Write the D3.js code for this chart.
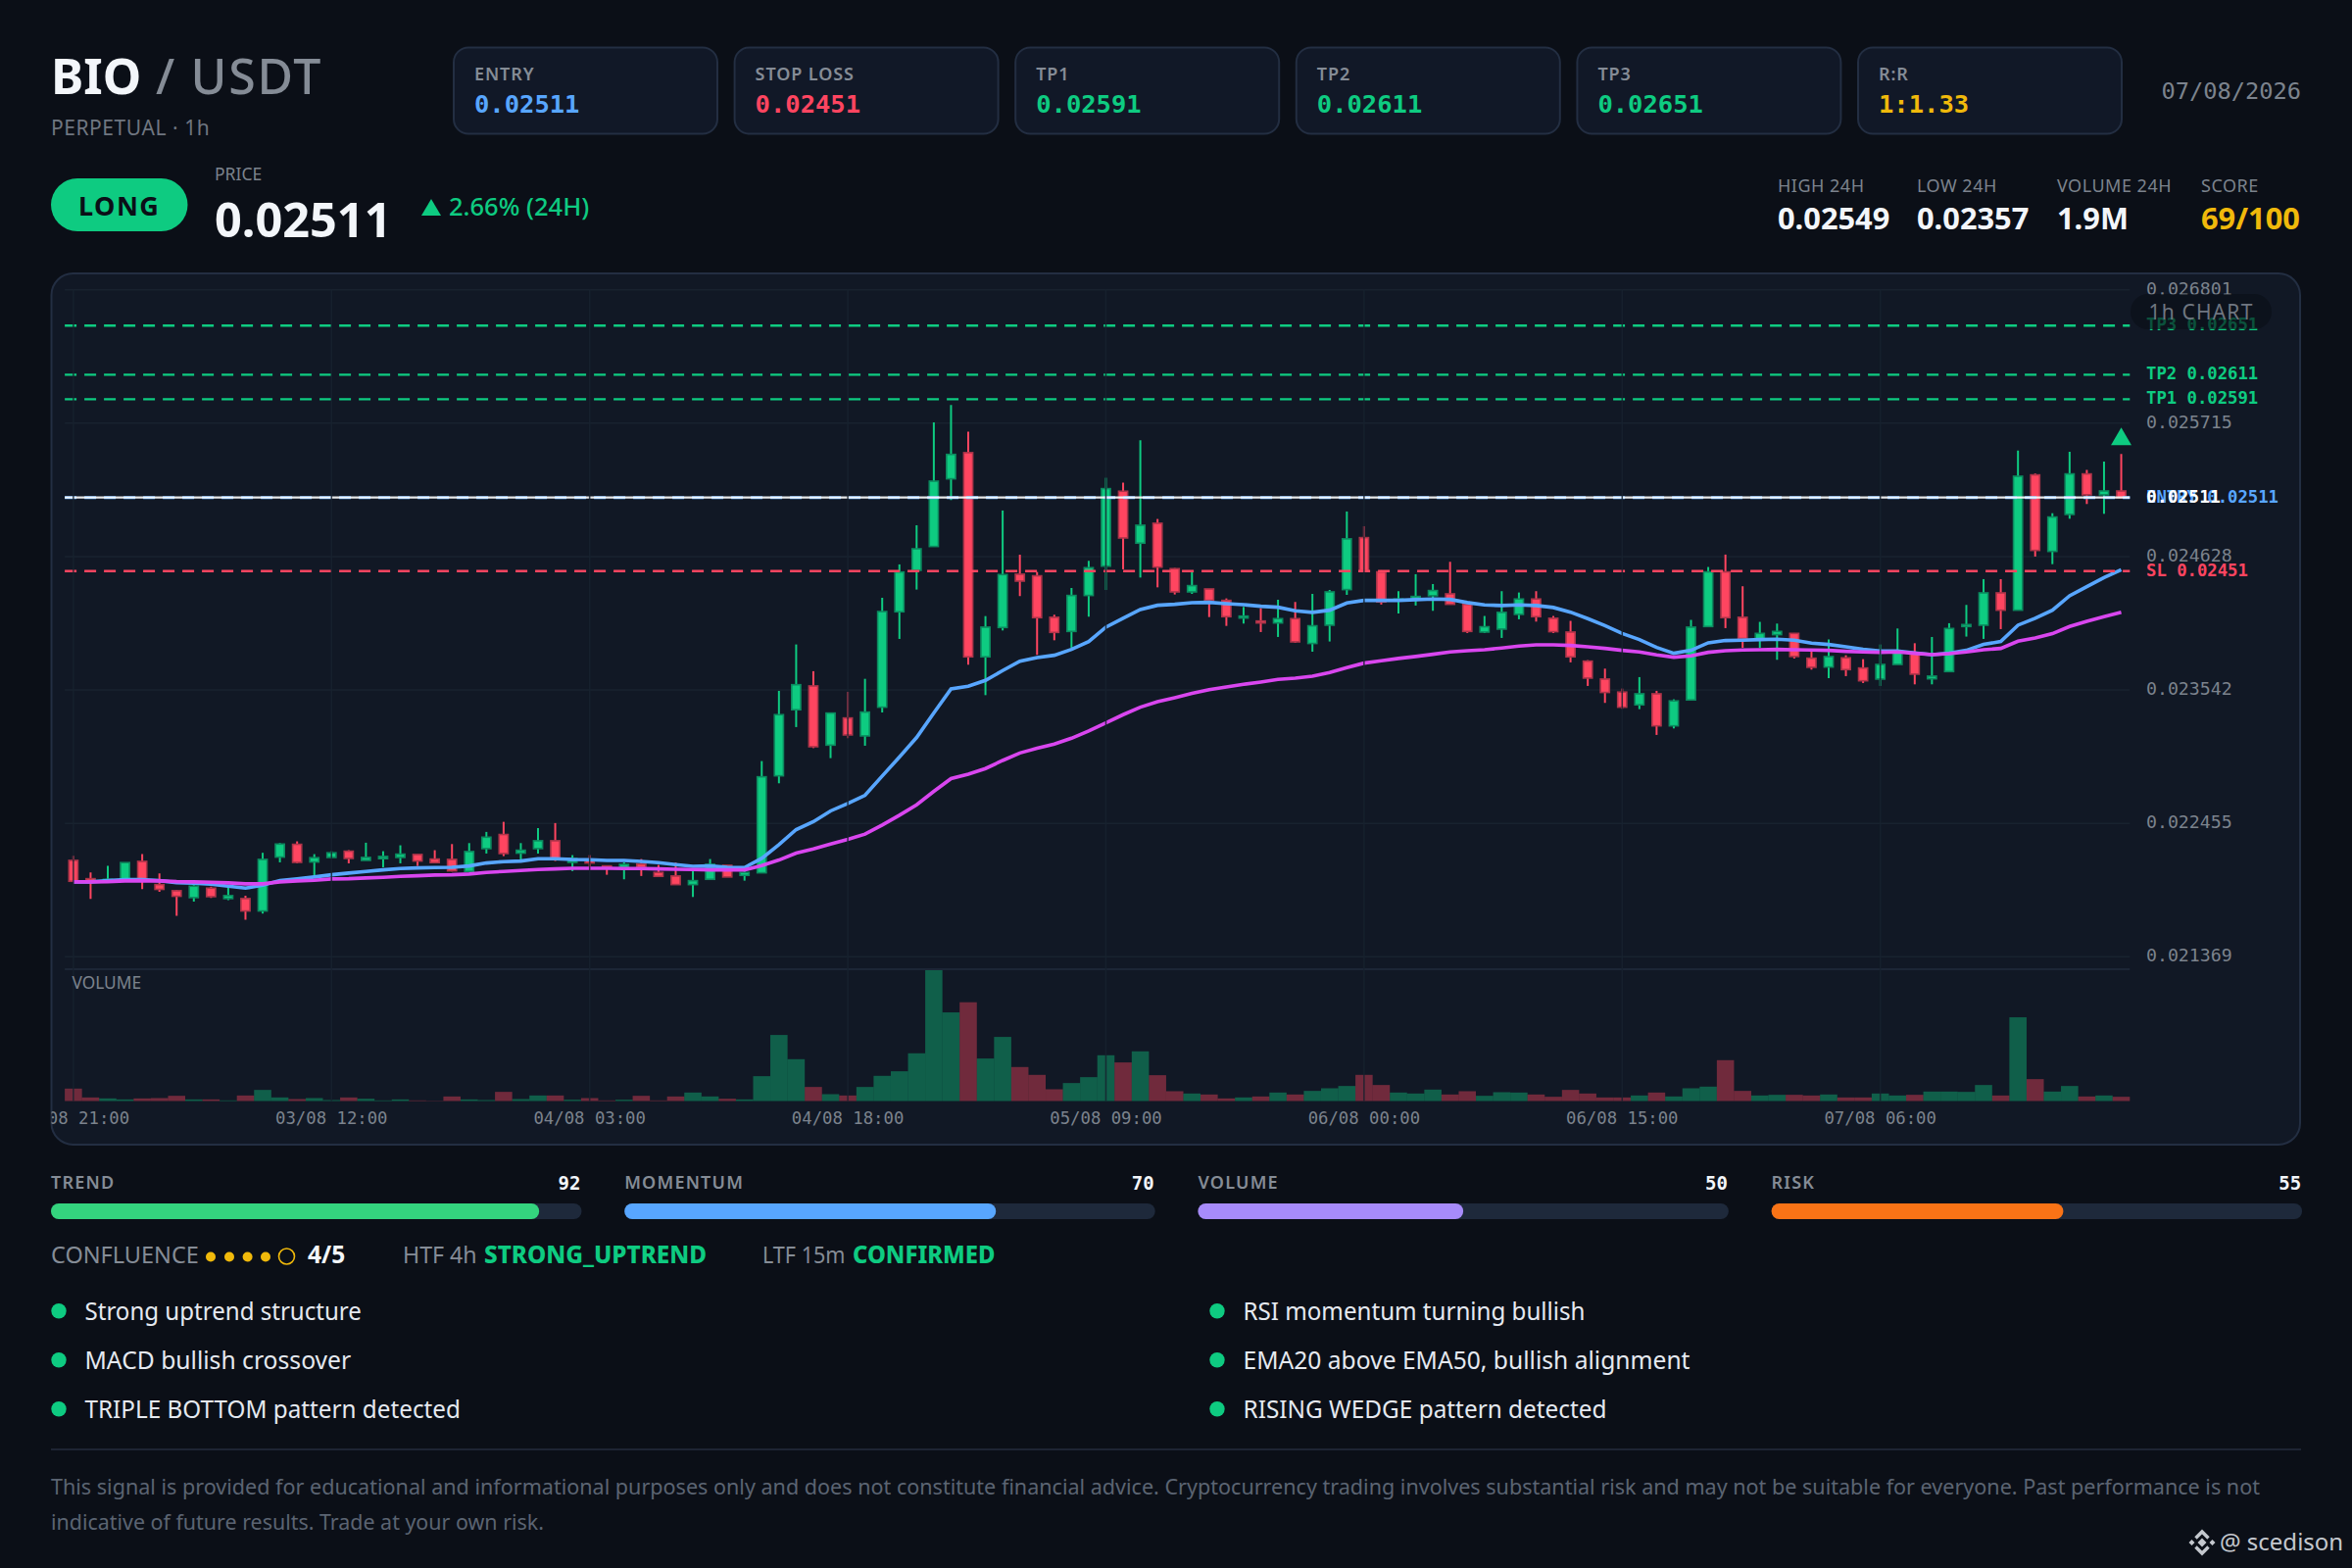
<!DOCTYPE html>
<html>
<head>
<meta charset="utf-8">
<title>BIO / USDT</title>
<script src="https://cdn.jsdelivr.net/npm/d3@7/dist/d3.min.js"></script>
<style>
    html, body { margin: 0; padding: 0; background: #0b0f17; }
    svg { display: block; }
    text { font-family: "Noto Sans", sans-serif; }
    .mono, .mono text { font-family: "DejaVu Sans Mono", monospace; }
</style>
</head>
<body>
<svg id="page" width="2400" height="1600"></svg>
<script>
// candles, 1h bars
const opens = [
    0.022154,0.022005,0.021989,0.021997,0.022146,0.021957,0.021907,0.021851,0.021928,0.021843,
    0.021843,0.021742,0.022181,0.022285,0.022141,0.022178,0.022229,0.022154,0.022168,0.022178,
    0.022202,0.022165,0.022162,0.022064,0.022250,0.022365,0.022213,0.022250,0.022314,0.022138,
    0.022157,0.022109,0.022096,0.022125,0.022056,0.022027,0.021957,0.022000,0.022114,0.022032,
    0.022053,0.022843,0.023381,0.023575,0.023093,0.023314,0.023168,0.023402,0.024179,0.024517,
    0.024711,0.025262,0.025475,0.023812,0.024051,0.024485,0.024472,0.024134,0.024019,0.024312,
    0.024551,0.025161,0.024738,0.024900,0.024530,0.024341,0.024365,0.024272,0.024128,0.024104,
    0.024088,0.024123,0.023921,0.024070,0.024360,0.024783,0.024504,0.024267,0.024283,0.024310,
    0.024325,0.024240,0.024014,0.024038,0.024158,0.024283,0.024126,0.024014,0.023777,0.023631,
    0.023525,0.023421,0.023511,0.023250,0.023461,0.024059,0.024504,0.024134,0.023953,0.023993,
    0.024003,0.023801,0.023729,0.023804,0.023721,0.023631,0.023750,0.023846,0.023633,0.023692,
    0.024059,0.024070,0.024333,0.024192,0.025294,0.024671,0.024972,0.025302,0.025132,0.025163
];
const highs = [
    0.022192,0.022056,0.022109,0.022136,0.022205,0.022048,0.021915,0.021957,0.021941,0.021941,
    0.021867,0.022216,0.022295,0.022309,0.022205,0.022229,0.022237,0.022298,0.022229,0.022277,
    0.022202,0.022237,0.022287,0.022295,0.022386,0.022468,0.022295,0.022418,0.022458,0.022197,
    0.022197,0.022109,0.022138,0.022165,0.022117,0.022136,0.022069,0.022165,0.022114,0.022096,
    0.022963,0.023535,0.023913,0.023695,0.023354,0.023527,0.023633,0.024293,0.024565,0.024884,
    0.025722,0.025863,0.025645,0.024144,0.025004,0.024644,0.024503,0.024155,0.024373,0.024594,
    0.025270,0.025230,0.025576,0.024935,0.024535,0.024511,0.024365,0.024288,0.024219,0.024208,
    0.024277,0.024259,0.024325,0.024357,0.024996,0.024876,0.024517,0.024347,0.024485,0.024405,
    0.024586,0.024259,0.024145,0.024347,0.024336,0.024347,0.024145,0.024105,0.023785,0.023716,
    0.023554,0.023647,0.023535,0.023466,0.024113,0.024544,0.024645,0.024387,0.024097,0.024083,
    0.024006,0.023854,0.023953,0.023825,0.023793,0.023913,0.024043,0.023923,0.023974,0.024086,
    0.024235,0.024445,0.024445,0.025493,0.025304,0.024982,0.025483,0.025334,0.025403,0.025464
];
const lows = [
    0.021979,0.021840,0.021989,0.021989,0.021920,0.021899,0.021702,0.021819,0.021848,0.021830,
    0.021670,0.021721,0.022138,0.022130,0.022024,0.022170,0.022130,0.022154,0.022098,0.022130,
    0.022109,0.022130,0.022064,0.022059,0.022210,0.022189,0.022157,0.022210,0.022149,0.022067,
    0.022077,0.022037,0.022000,0.022027,0.022019,0.021957,0.021856,0.021997,0.022019,0.021989,
    0.022053,0.022782,0.023240,0.023069,0.022987,0.023149,0.023088,0.023359,0.023958,0.024360,
    0.024711,0.025089,0.023748,0.023500,0.024027,0.024307,0.023828,0.023947,0.023886,0.024139,
    0.024357,0.024525,0.024458,0.024378,0.024320,0.024325,0.024136,0.024064,0.024083,0.024014,
    0.023974,0.023926,0.023854,0.023937,0.024317,0.024512,0.024238,0.024166,0.024230,0.024187,
    0.024240,0.024006,0.024006,0.023966,0.024118,0.024099,0.024006,0.023767,0.023575,0.023437,
    0.023389,0.023386,0.023176,0.023229,0.023461,0.024057,0.024046,0.023886,0.023886,0.023788,
    0.023799,0.023708,0.023639,0.023655,0.023599,0.023575,0.023750,0.023588,0.023588,0.023692,
    0.023977,0.023958,0.024038,0.024192,0.024629,0.024567,0.024937,0.025057,0.024977,0.025110
];
const closes = [
    0.021984,0.021984,0.022000,0.022136,0.021997,0.021918,0.021862,0.021944,0.021859,0.021867,
    0.021742,0.022162,0.022287,0.022138,0.022176,0.022216,0.022170,0.022178,0.022186,0.022205,
    0.022149,0.022136,0.022069,0.022226,0.022343,0.022210,0.022237,0.022314,0.022170,0.022170,
    0.022133,0.022096,0.022122,0.022096,0.022024,0.021957,0.021989,0.022122,0.022019,0.022056,
    0.022835,0.023341,0.023585,0.023080,0.023354,0.023176,0.023362,0.024181,0.024503,0.024692,
    0.025243,0.025461,0.023812,0.024054,0.024482,0.024429,0.024131,0.024011,0.024312,0.024538,
    0.025182,0.024780,0.024884,0.024543,0.024341,0.024392,0.024272,0.024139,0.024144,0.024088,
    0.024123,0.023934,0.024065,0.024341,0.024773,0.024512,0.024259,0.024283,0.024304,0.024352,
    0.024240,0.024019,0.024057,0.024174,0.024283,0.024139,0.024017,0.023812,0.023639,0.023522,
    0.023402,0.023511,0.023250,0.023453,0.024054,0.024504,0.024131,0.023961,0.024003,0.024019,
    0.023815,0.023727,0.023814,0.023708,0.023617,0.023750,0.023846,0.023671,0.023655,0.024043,
    0.024075,0.024333,0.024192,0.025283,0.024679,0.024951,0.025302,0.025132,0.025163,0.025110
];
const ema20 = [
    0.021979,0.021979,0.021989,0.021997,0.021997,0.021989,0.021973,0.021968,0.021960,0.021944,
    0.021928,0.021952,0.021989,0.022003,0.022019,0.022037,0.022051,0.022064,0.022077,0.022088,
    0.022093,0.022096,0.022098,0.022109,0.022133,0.022144,0.022149,0.022168,0.022168,0.022162,
    0.022160,0.022154,0.022154,0.022146,0.022136,0.022120,0.022106,0.022109,0.022098,0.022096,
    0.022170,0.022282,0.022405,0.022469,0.022557,0.022618,0.022684,0.022841,0.022996,0.023155,
    0.023355,0.023551,0.023572,0.023620,0.023700,0.023777,0.023806,0.023825,0.023873,0.023937,
    0.024054,0.024126,0.024197,0.024232,0.024240,0.024253,0.024256,0.024245,0.024237,0.024224,
    0.024216,0.024187,0.024174,0.024192,0.024251,0.024272,0.024272,0.024272,0.024278,0.024283,
    0.024280,0.024254,0.024235,0.024230,0.024235,0.024230,0.024214,0.024176,0.024123,0.024067,
    0.024003,0.023953,0.023889,0.023841,0.023865,0.023926,0.023945,0.023948,0.023953,0.023956,
    0.023948,0.023924,0.023913,0.023894,0.023873,0.023860,0.023860,0.023844,0.023830,0.023841,
    0.023865,0.023913,0.023937,0.024070,0.024126,0.024192,0.024309,0.024384,0.024458,0.024522
];
const ema50 = [
    0.021979,0.021979,0.021981,0.021987,0.021989,0.021987,0.021981,0.021979,0.021976,0.021971,
    0.021963,0.021963,0.021979,0.021987,0.021992,0.022003,0.022005,0.022011,0.022016,0.022024,
    0.022029,0.022035,0.022037,0.022043,0.022056,0.022064,0.022072,0.022080,0.022085,0.022090,
    0.022090,0.022090,0.022088,0.022088,0.022085,0.022082,0.022080,0.022077,0.022077,0.022077,
    0.022112,0.022157,0.022213,0.022248,0.022288,0.022325,0.022368,0.022442,0.022522,0.022607,
    0.022716,0.022820,0.022856,0.022902,0.022968,0.023029,0.023067,0.023101,0.023149,0.023208,
    0.023274,0.023341,0.023402,0.023447,0.023479,0.023514,0.023545,0.023567,0.023588,0.023607,
    0.023628,0.023639,0.023655,0.023684,0.023724,0.023761,0.023780,0.023799,0.023815,0.023833,
    0.023852,0.023862,0.023870,0.023884,0.023900,0.023910,0.023910,0.023905,0.023894,0.023881,
    0.023865,0.023852,0.023828,0.023809,0.023820,0.023849,0.023862,0.023868,0.023870,0.023873,
    0.023870,0.023868,0.023865,0.023857,0.023852,0.023849,0.023852,0.023841,0.023830,0.023838,
    0.023852,0.023870,0.023881,0.023939,0.023966,0.024001,0.024059,0.024102,0.024139,0.024176
];
// volume in thousands (scale guessed, only the proportions can be read)
const volumes = [
    38,11,8,5,8,9,16,5,5,2,
    17,34,11,6,9,3,11,7,2,5,
    2,1,14,5,3,28,6,17,17,4,
    9,2,4,16,2,14,26,14,7,5,
    76,202,128,43,21,17,43,77,91,146,
    400,271,302,130,196,104,80,36,55,73,
    140,118,152,79,30,23,20,8,11,14,
    26,20,31,39,46,80,49,26,23,35,
    20,30,16,27,26,20,13,34,23,11,
    11,17,26,14,39,44,125,31,17,19,
    19,17,20,11,11,23,17,19,29,29,
    28,49,17,256,67,29,46,14,17,13
];
const priceTicks = [0.026801, 0.025715, 0.024628, 0.023542, 0.022455, 0.021369];
const timeTickIndex = [0, 15, 30, 45, 60, 75, 90, 105];
const timeTickLabels = ['02/08 21:00', '03/08 12:00', '04/08 03:00', '04/08 18:00', '05/08 09:00', '06/08 00:00', '06/08 15:00', '07/08 06:00'];
const tpLevels = [
    {name: 'TP3', price: 0.02651},
    {name: 'TP2', price: 0.02611},
    {name: 'TP1', price: 0.02591}
];
const entryPrice = 0.02511;
const stopPrice = 0.02451;
const signalPrice = 0.025584;

// header
const cards = [
    {label: 'ENTRY', value: '0.02511', color: '#58a6ff'},
    {label: 'STOP LOSS', value: '0.02451', color: '#ff4560'},
    {label: 'TP1', value: '0.02591', color: '#0ecb81'},
    {label: 'TP2', value: '0.02611', color: '#0ecb81'},
    {label: 'TP3', value: '0.02651', color: '#0ecb81'},
    {label: 'R:R', value: '1:1.33', color: '#f0b90b'}
];
const stats = [
    {label: 'HIGH 24H', value: '0.02549', x: 1814, color: '#f3f6fa'},
    {label: 'LOW 24H', value: '0.02357', x: 1956, color: '#f3f6fa'},
    {label: 'VOLUME 24H', value: '1.9M', x: 2099, color: '#f3f6fa'},
    {label: 'SCORE', value: '69/100', x: 2246, color: '#f0b90b'}
];
// score bars
const scoreNames = ['TREND', 'MOMENTUM', 'VOLUME', 'RISK'];
const scoreValues = [92, 70, 50, 55];
const scoreColors = ['#34d47e', '#58a6ff', '#a78bfa', '#f97316'];
const reasonsLeft = ['Strong uptrend structure', 'MACD bullish crossover', 'TRIPLE BOTTOM pattern detected'];
const reasonsRight = ['RSI momentum turning bullish', 'EMA20 above EMA50, bullish alignment', 'RISING WEDGE pattern detected'];
const footerLines = [
    'This signal is provided for educational and informational purposes only and does not constitute financial advice. Cryptocurrency trading involves substantial risk and may not be suitable for everyone. Past performance is not',
    'indicative of future results. Trade at your own risk.'
];
// the installed sans runs wider than the one in the picture, so long texts get fitted to these widths
const reasonWidthsLeft = [282.4, 271.7, 383.4];
const reasonWidthsRight = [349, 456, 371];
const footerWidths = [2254, 503];

const green = '#0ecb81';
const red = '#ff4560';
const gray = '#858c96';
const svg = d3.select('#page');

function addText(parent, x, y, str, size, color, weight) {
    return parent.append('text')
        .attr('x', x)
        .attr('y', y)
        .attr('font-size', size)
        .attr('font-weight', weight || 400)
        .attr('fill', color)
        .text(str);
}

function fit(sel, width) {
    return sel.attr('textLength', width).attr('lengthAdjust', 'spacingAndGlyphs');
}

function drawHeader() {
    let title = addText(svg, 52, 96, 'BIO', 50, '#f3f6fa', 700);
    title.append('tspan').attr('fill', '#858c96').attr('font-weight', 500)
        .attr('letter-spacing', 1.7).text(' / USDT');
    addText(svg, 52, 138, 'PERPETUAL · 1h', 21, '#6f7680').attr('letter-spacing', 0.55);

    let cardWidth = 269, cardGap = 17.6;
    cards.forEach((c, i) => {
        let x = 463 + i * (cardWidth + cardGap);
        svg.append('rect')
            .attr('x', x).attr('y', 48.5)
            .attr('width', cardWidth).attr('height', 88)
            .attr('rx', 15)
            .attr('fill', '#111827')
            .attr('stroke', '#232e42')
            .attr('stroke-width', 2);
        addText(svg, x + 21, 82, c.label, 18, gray, 600).attr('letter-spacing', 0.9);
        addText(svg, x + 21, 115, c.value, 25.5, c.color, 700).attr('class', 'mono');
    });
    addText(svg, 2348, 101, '07/08/2026', 23.7, '#7c838d').attr('class', 'mono').attr('text-anchor', 'end');

    svg.append('rect')
        .attr('x', 52).attr('y', 182)
        .attr('width', 139.5).attr('height', 54)
        .attr('rx', 27)
        .attr('fill', green);
    addText(svg, 121.7, 219.5, 'LONG', 27, '#0b0f17', 700).attr('text-anchor', 'middle').attr('letter-spacing', 1.5);
    addText(svg, 219, 184, 'PRICE', 17.5, '#7c838d');
    addText(svg, 219, 241.5, '0.02511', 48.6, '#f3f6fa', 700);
    svg.append('path')
        .attr('d', d3.line()([[430, 220], [440, 203], [450, 220]]) + 'Z')
        .attr('fill', green);
    addText(svg, 458, 220, '2.66% (24H)', 25.5, green, 500);

    stats.forEach(s => {
        addText(svg, s.x, 195.5, s.label, 18, '#7c838d').attr('letter-spacing', 0.5);
        addText(svg, s.x, 233.5, s.value, 30.8, s.color, 700);
    });
}

function drawChart() {
    let panel = {left: 52.5, top: 279, right: 2347, bottom: 1168};
    let plot = {left: 66.1, right: 2173.3, top: 295.8, bottom: 976.3, volTop: 990, volBottom: 1123.5};

    svg.append('clipPath').attr('id', 'panelClip')
        .append('rect')
        .attr('x', panel.left).attr('y', panel.top)
        .attr('width', panel.right - panel.left).attr('height', panel.bottom - panel.top)
        .attr('rx', 22);
    svg.append('rect')
        .attr('x', panel.left).attr('y', panel.top)
        .attr('width', panel.right - panel.left).attr('height', panel.bottom - panel.top)
        .attr('rx', 22)
        .attr('fill', '#111825')
        .attr('stroke', '#232e42')
        .attr('stroke-width', 2);

    let chart = svg.append('g').attr('clip-path', 'url(#panelClip)');

    let xScale = d3.scaleBand()
        .domain(d3.range(opens.length))
        .range([plot.left, plot.right]);
    let yScale = d3.scaleLinear()
        .domain([priceTicks[5], priceTicks[0]])
        .range([plot.bottom, plot.top]);
    let volScale = d3.scaleLinear()
        .domain([0, d3.max(volumes)])
        .range([plot.volBottom, plot.volTop]);
    let mid = i => xScale(i) + xScale.bandwidth() / 2;

    // horizontal grid
    chart.selectAll('line.hgrid')
        .data(priceTicks)
        .enter().append('line')
        .attr('class', 'hgrid')
        .attr('x1', plot.left).attr('x2', plot.right)
        .attr('y1', d => yScale(d)).attr('y2', d => yScale(d))
        .attr('stroke', '#18222f')
        .attr('stroke-width', 1.5);
    chart.append('line')
        .attr('x1', plot.left).attr('x2', plot.right)
        .attr('y1', 989).attr('y2', 989)
        .attr('stroke', '#1c2636')
        .attr('stroke-width', 2);

    // volume
    chart.selectAll('rect.vol')
        .data(volumes)
        .enter().append('rect')
        .attr('class', 'vol')
        .attr('x', (d, i) => xScale(i))
        .attr('y', d => volScale(d))
        .attr('width', xScale.bandwidth())
        .attr('height', d => plot.volBottom - volScale(d))
        .attr('fill', (d, i) => closes[i] >= opens[i] ? green : red)
        .attr('fill-opacity', 0.4);

    // candles
    let idx = d3.range(opens.length);
    let candleColor = i => closes[i] >= opens[i] ? green : red;
    chart.selectAll('line.wick')
        .data(idx)
        .enter().append('line')
        .attr('class', 'wick')
        .attr('x1', mid).attr('x2', mid)
        .attr('y1', i => yScale(highs[i]))
        .attr('y2', i => yScale(lows[i]))
        .attr('stroke', candleColor)
        .attr('stroke-width', 2);
    chart.selectAll('rect.body')
        .data(idx)
        .enter().append('rect')
        .attr('class', 'body')
        .attr('x', i => mid(i) - 4.6)
        .attr('y', i => yScale(Math.max(opens[i], closes[i])))
        .attr('width', 9.2)
        .attr('height', i => Math.max(1, Math.abs(yScale(opens[i]) - yScale(closes[i]))))
        .attr('fill', candleColor)
        .attr('stroke', i => closes[i] >= opens[i] ? '#0c8a5f' : '#ad3449')
        .attr('stroke-width', 1.6);

    // moving averages
    let line = d3.line().x((d, i) => mid(i)).y(d => yScale(d));
    chart.append('path').attr('d', line(ema20))
        .attr('fill', 'none').attr('stroke', '#58a6ff').attr('stroke-width', 3.6);
    chart.append('path').attr('d', line(ema50))
        .attr('fill', 'none').attr('stroke', '#d946ef').attr('stroke-width', 3.6);

    // levels
    tpLevels.forEach(l => {
        chart.append('line')
            .attr('x1', plot.left).attr('x2', plot.right)
            .attr('y1', yScale(l.price)).attr('y2', yScale(l.price))
            .attr('stroke', green).attr('stroke-width', 2.4)
            .attr('stroke-dasharray', '12 8');
    });
    chart.append('line')
        .attr('x1', plot.left).attr('x2', plot.right)
        .attr('y1', yScale(stopPrice)).attr('y2', yScale(stopPrice))
        .attr('stroke', red).attr('stroke-width', 2.4)
        .attr('stroke-dasharray', '12 8');
    chart.append('line')
        .attr('x1', plot.left).attr('x2', plot.right)
        .attr('y1', yScale(entryPrice)).attr('y2', yScale(entryPrice))
        .attr('stroke', '#58a6ff').attr('stroke-width', 3)
        .attr('stroke-dasharray', '12 8');
    chart.append('line')
        .attr('x1', plot.left).attr('x2', plot.right)
        .attr('y1', yScale(entryPrice)).attr('y2', yScale(entryPrice))
        .attr('stroke', '#ffffff').attr('stroke-opacity', 0.9).attr('stroke-width', 2.2);

    // vertical grid sits on top of the candles
    chart.selectAll('line.vgrid')
        .data(timeTickIndex)
        .enter().append('line')
        .attr('class', 'vgrid')
        .attr('x1', mid).attr('x2', mid)
        .attr('y1', plot.top).attr('y2', plot.volBottom)
        .attr('stroke', '#18222f')
        .attr('stroke-opacity', 0.85)
        .attr('stroke-width', 1.5);

    // signal marker
    chart.append('path')
        .attr('d', d3.symbol().type(d3.symbolTriangle).size(190)())
        .attr('transform', `translate(${mid(119)},${yScale(signalPrice)})`)
        .attr('fill', green);

    // axes
    let priceAxis = d3.axisRight(yScale)
        .tickValues(priceTicks)
        .tickFormat(d3.format('.6f'))
        .tickSize(0)
        .tickPadding(0);
    let priceG = chart.append('g')
        .attr('class', 'mono')
        .attr('transform', 'translate(2190,-1.5)')
        .call(priceAxis);
    priceG.select('.domain').remove();
    priceG.selectAll('text').attr('font-size', 18.2).attr('fill', '#7c838d');

    let timeScale = d3.scalePoint()
        .domain(timeTickIndex)
        .range([mid(0), mid(105)]);
    let timeAxis = d3.axisBottom(timeScale)
        .tickFormat((d, i) => timeTickLabels[i])
        .tickSize(0)
        .tickPadding(0);
    let timeG = chart.append('g')
        .attr('class', 'mono')
        .attr('transform', 'translate(-0.5,1135)')
        .call(timeAxis);
    timeG.select('.domain').remove();
    timeG.selectAll('text').attr('font-size', 17.3).attr('fill', '#7c838d');

    addText(chart, 73.5, 1009, 'VOLUME', 17.3, '#7c838d');

    // level labels
    let labels = chart.append('g').attr('class', 'mono');
    tpLevels.forEach(l => {
        addText(labels, 2190, yScale(l.price) + 5, `${l.name} ${l.price.toFixed(5)}`, 17.25, green, 700);
    });
    addText(labels, 2190, yScale(stopPrice) + 5, `SL ${stopPrice.toFixed(5)}`, 17.25, red, 700);
    addText(labels, 2190, yScale(entryPrice) + 5, `ENTRY ${entryPrice.toFixed(5)}`, 17.25, '#58a6ff', 700);
    addText(labels, 2190, yScale(entryPrice) + 5.5, entryPrice.toFixed(5), 18, '#ffffff', 700);

    // timeframe badge
    chart.append('rect')
        .attr('x', 2174).attr('y', 300)
        .attr('width', 144).attr('height', 36)
        .attr('rx', 18)
        .attr('fill', '#0b0f17')
        .attr('fill-opacity', 0.65);
    addText(chart, 2246, 326, '1h CHART', 21, '#6f7680').attr('text-anchor', 'middle').attr('letter-spacing', 1.2);
}

function drawScores() {
    let barWidth = 541.5, barStep = 585.2;
    scoreNames.forEach((name, i) => {
        let x0 = 52 + i * barStep;
        let barScale = d3.scaleLinear().domain([0, 100]).range([0, barWidth]);
        addText(svg, x0, 1213, name, 18, gray, 600).attr('letter-spacing', 1.2);
        addText(svg, x0 + barWidth - 1, 1213.5, scoreValues[i], 19, '#f3f6fa', 700)
            .attr('class', 'mono').attr('text-anchor', 'end');
        svg.append('rect')
            .attr('x', x0).attr('y', 1228)
            .attr('width', barWidth).attr('height', 16)
            .attr('rx', 8)
            .attr('fill', '#1e293b');
        svg.append('rect')
            .attr('x', x0).attr('y', 1228)
            .attr('width', barScale(scoreValues[i])).attr('height', 16)
            .attr('rx', 8)
            .attr('fill', scoreColors[i]);
    });
}

function drawConfluence() {
    let base = 1288.5;
    addText(svg, 52, base, 'CONFLUENCE', 23.5, gray);
    [215, 234, 252.6, 271].forEach(x => {
        svg.append('circle').attr('cx', x).attr('cy', 1282.5).attr('r', 5).attr('fill', '#f0b90b');
    });
    svg.append('circle').attr('cx', 292.5).attr('cy', 1282).attr('r', 8)
        .attr('fill', 'none').attr('stroke', '#f0b90b').attr('stroke-width', 1.6);
    addText(svg, 314, base, '4/5', 24.5, '#f3f6fa', 700);
    fit(addText(svg, 411, base, 'HTF 4h', 23.5, gray), 75.7);
    fit(addText(svg, 494, base, 'STRONG_UPTREND', 24.3, green, 800), 227);
    fit(addText(svg, 778, base, 'LTF 15m', 23.5, gray), 84.5);
    fit(addText(svg, 870, base, 'CONFIRMED', 24.3, green, 800), 145.5);
}

function drawReasons() {
    let rows = [
        [60, 86.5, reasonsLeft, reasonWidthsLeft],
        [1242, 1268.5, reasonsRight, reasonWidthsRight]
    ];
    rows.forEach(r => {
        r[2].forEach((str, i) => {
            let cy = 1337.7 + i * 50;
            svg.append('circle').attr('cx', r[0]).attr('cy', cy).attr('r', 7.7).attr('fill', green);
            fit(addText(svg, r[1], cy + 9, str, 25.5, '#e5e9f0'), r[3][i]);
        });
    });
}

function drawFooter() {
    svg.append('line')
        .attr('x1', 52).attr('x2', 2348)
        .attr('y1', 1479).attr('y2', 1479)
        .attr('stroke', '#1e2433').attr('stroke-width', 2);
    footerLines.forEach((str, i) => {
        fit(addText(svg, 52, 1525 + i * 36, str, 22.5, '#5b6472'), footerWidths[i]);
    });
    // exchange mark
    let diamond = (cx, cy, r) => `M${cx},${cy - r}L${cx + r},${cy}L${cx},${cy + r}L${cx - r},${cy}Z`;
    let mark = [[2247, 1574, 4.5], [2236.5, 1574, 3], [2257.5, 1574, 3]];
    svg.append('path')
        .attr('d', mark.map(m => diamond(m[0], m[1], m[2])).join(''))
        .attr('fill', '#c4c8ce');
    svg.append('path')
        .attr('d', 'M2240.5,1569.5L2247,1563L2253.5,1569.5M2240.5,1578.5L2247,1585L2253.5,1578.5')
        .attr('fill', 'none')
        .attr('stroke', '#c4c8ce')
        .attr('stroke-width', 3.4);
    addText(svg, 2265, 1582, '@ scedison', 24, '#c4c8ce');
}

drawHeader();
drawChart();
drawScores();
drawConfluence();
drawReasons();
drawFooter();
</script>
</body>
</html>
